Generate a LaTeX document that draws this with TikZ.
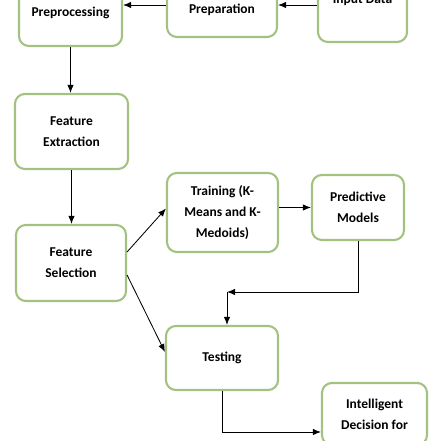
\documentclass[tikz,border=0pt]{standalone}
\usepackage{fontspec}
\setmainfont{Carlito}
\usetikzlibrary{positioning}
\usetikzlibrary{arrows.meta}
\definecolor{boxgreen}{rgb}{0.64,0.76,0.51}

\begin{document}
\begin{tikzpicture}[
    box/.style={rectangle, draw=boxgreen, line width=1.5pt, rounded corners=7pt, align=center, font=\bfseries\fontsize{9.6}{15}\selectfont},
    flow/.style={-{Latex[length=2mm, width=1.6mm]}, line width=0.6pt, draw=black}]
    \useasboundingbox (0,0) rectangle (11.025,11.025);
    \node (prep) [box, minimum width=2.575cm, minimum height=1.65cm] at (1.7625,10.7) {Preprocessing};
    \node (dataprep) [box, minimum width=2.75cm, minimum height=1.35cm] at (5.55,10.775) {Preparation};
    \node (input) [box, minimum width=2.225cm, minimum height=2.1cm] at (9.0625,11.025) {Input Data};
    \node (extract) [box, minimum width=2.825cm, minimum height=1.875cm] at (1.7875,7.7375) {Feature\\Extraction};
    \node (select) [box, minimum width=2.75cm, minimum height=1.9cm] at (1.775,4.45) {Feature\\Selection};
    \node (train) [box, minimum width=2.775cm, minimum height=1.975cm] at (5.5625,5.7125) {Training (K-\\Means and K-\\Medoids)};
    \node (pred) [box, minimum width=2.3cm, minimum height=1.625cm] at (8.95,5.8375) {Predictive\\Models};
    \node (test) [box, minimum width=2.8cm, minimum height=1.6cm] at (5.55,2.075) {Testing};
    \node (decide) [box, minimum width=2.625cm, minimum height=1.55cm] at (9.3625,0.675) {Intelligent\\Decision for};
    \coordinate (turn) at (5.675,3.725);
    % top row, right to left
    \draw [flow] ([yshift=-0.125cm]input.west) -- ([yshift=-0.125cm]input.west -| dataprep.east);
    \draw [flow] ([yshift=0.125cm]dataprep.west) -- ([yshift=0.125cm]dataprep.west -| prep.east);
    \draw [flow] (prep.south) -- (prep.south |- extract.north);
    \draw [flow] (extract.south) -- (extract.south |- select.north);
    \draw [flow] ([yshift=0.275cm]select.east) -- ([yshift=0.1cm]train.west);
    \draw [flow] ([yshift=-0.3cm]select.east) -- ([yshift=0.15cm]test.west);
    \draw [flow] (train.east |- pred.west) -- (pred.west);
    \draw [flow] (pred.south) |- (turn);
    \draw [flow] (turn) -- (turn |- test.north);
    \draw [flow] (test.south) |- ([yshift=-0.45cm]decide.west);
\end{tikzpicture}
\end{document}
